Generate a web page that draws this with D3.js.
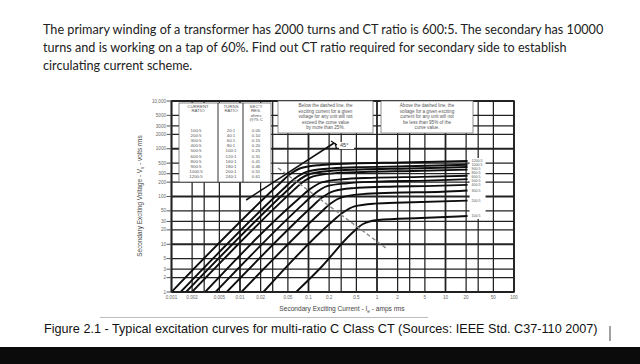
<!DOCTYPE html>
<html><head><meta charset="utf-8">
<script src="https://cdn.jsdelivr.net/npm/d3@7"></script>
<style>body{margin:0;background:#fff}svg{display:block}</style>
</head><body><svg id="c" width="640" height="364"></svg>
<script>
// ---------- data ----------
const paragraph = [
  "The primary winding of a transformer has 2000 turns and CT ratio is 600:5. The secondary has 10000",
  "turns and is working on a tap of 60%. Find out CT ratio required for secondary side to establish",
  "circulating current scheme."
];
const caption = "Figure  2.1 - Typical excitation curves for multi-ratio C Class CT (Sources: IEEE Std. C37-110 2007)";
const xTickValues = [0.001,0.002,0.005,0.01,0.02,0.05,0.1,0.2,0.5,1,2,5,10,20,50,100];
const xTickLabels = ["0.001","0.002","0.005","0.01","0.02","0.05","0.1","0.2","0.5","1","2","5","10","20","50","100"];
const yTickValues = [10000,5000,3000,2000,1000,500,300,200,100,50,30,20,10,5,3,2,1];
const yTickLabels = ["10,000","5000","3000","2000","1000","500","300","200","100","50","30","20","10","5","3","2","1"];
const xGridValues = [0.001,0.002,0.003,0.005,0.01,0.02,0.03,0.05,0.1,0.2,0.3,0.5,1,2,3,5,10,20,30,50,100];
const yGridValues = [1,2,3,5,10,20,30,50,100,200,300,500,1000,2000,3000,5000,10000];
const ratios = ["1200:5","1000:5","900:5","800:5","600:5","500:5","400:5","300:5","200:5","100:5"];
const exc1200 = [[0.001,1],[0.036,174],[0.052,282],[0.078,395],[0.153,457],[0.418,491],[2.24,515],[21,554]];
const exc1000 = [[0.00136,1],[0.0432,145],[0.0624,235],[0.0936,329],[0.184,381],[0.502,409],[2.69,429],[21,462]];
const exc900  = [[0.00163,1],[0.048,130],[0.0693,211],[0.104,296],[0.204,343],[0.557,368],[2.99,386],[21,415]];
const exc800  = [[0.00199,1],[0.054,116],[0.078,188],[0.117,263],[0.230,305],[0.627,327],[3.36,343],[21,365]];
const exc600  = [[0.0031,1],[0.072,90],[0.104,141],[0.156,198],[0.306,229],[0.836,246],[4.48,258],[21,272]];
const exc500  = [[0.0044,1],[0.0864,72.5],[0.125,117],[0.187,165],[0.367,190],[1.0,205],[5.38,215],[21,231]];
const exc400  = [[0.0064,1],[0.108,58],[0.156,94],[0.234,130],[0.459,150],[1.25,160],[6.72,167],[21,175]];
const exc300  = [[0.0105,1],[0.144,43.5],[0.208,70.5],[0.312,97],[0.612,112],[1.67,120],[8.96,126],[21,134]];
const exc200  = [[0.022,1],[0.216,29],[0.312,45],[0.468,62],[0.918,71],[2.51,75],[21,82]];
const exc100  = [[0.066,1],[0.153,3.3],[0.418,16.4],[0.625,26.5],[1.03,32.2],[4.38,35.5],[21,39]];
const tangent45 = [[0.0123,84.5],[0.236,1320]];
const dashedBoundary = [[0.036,395],[1.35,8.3]];
const tableHeaders = [["CURRENT","RATIO"],["TURNS","RATIO"],["SEC'Y","RES.","ohms","@75 C"]];
const tableCurrent = ["100:5","200:5","300:5","400:5","500:5","600:5","800:5","900:5","1000:5","1200:5"];
const tableTurns = ["20:1","40:1","60:1","80:1","100:1","120:1","160:1","180:1","200:1","240:1"];
const tableRes = ["0.05","0.10","0.15","0.20","0.25","0.31","0.41","0.46","0.51","0.61"];
const noteBelow = ["Below the dashed line, the","exciting current for a given","voltage for any unit will not","exceed the curve value","by more than 25%."];
const noteAbove = ["Above the dashed line, the","voltage for a given exciting","current for any unit will not","be less than 95% of the","curve value."];

const curves = [exc1200,exc1000,exc900,exc800,exc600,exc500,exc400,exc300,exc200,exc100];

// ---------- drawing ----------
const svg = d3.select("#c");
svg.append("rect").attr("width",640).attr("height",364).attr("fill","#fff");

// paragraph
const para = svg.append("g").attr("font-family","Lato, 'Open Sans', sans-serif").attr("fill","#222");
const pl = para.selectAll("text").data(paragraph).join("text")
  .attr("x",43).attr("y",(d,i)=>34+i*18).attr("font-size",12).text(d=>d);
const w0 = pl.nodes()[0].getComputedTextLength();
pl.attr("font-size",12*561/w0);

// scales
const L=171.5, R=514, T=101, B=292;
const x = d3.scaleLog().domain([0.001,100]).range([L,R]);
const y = d3.scaleLog().domain([1,10000]).range([B,T]);

const chart = svg.append("g");
svg.append("clipPath").attr("id","plot").append("rect").attr("x",L).attr("y",T).attr("width",R-L).attr("height",B-T);

const isDecade = v => Math.abs(Math.log10(v)-Math.round(Math.log10(v)))<1e-6;
chart.append("g").selectAll("line").data(xGridValues).join("line")
  .attr("x1",d=>x(d)).attr("x2",d=>x(d)).attr("y1",T).attr("y2",B)
  .attr("stroke","#222").attr("stroke-width",d=>isDecade(d)?1.8:1.25);
chart.append("g").selectAll("line").data(yGridValues).join("line")
  .attr("y1",d=>y(d)).attr("y2",d=>y(d)).attr("x1",L).attr("x2",R)
  .attr("stroke","#222").attr("stroke-width",d=>isDecade(d)?1.8:1.25);

// curves
const line = d3.line().x(d=>x(d[0])).y(d=>y(d[1])).curve(d3.curveMonotoneX);
const cg = chart.append("g").attr("clip-path","url(#plot)");
cg.selectAll("path.exc").data(curves).join("path").attr("class","exc")
  .attr("d",line).attr("fill","none").attr("stroke","#0e0e0e").attr("stroke-width",1.9);

// dashed boundary & 45 deg tangent
cg.append("path").attr("d",d3.line().x(d=>x(d[0])).y(d=>y(d[1]))(dashedBoundary))
  .attr("stroke","#8a8a8a").attr("stroke-width",1.4).attr("stroke-dasharray","4,2.5").attr("fill","none");
cg.append("path").attr("d",d3.line().x(d=>x(d[0])).y(d=>y(d[1]))(tangent45))
  .attr("stroke","#111").attr("stroke-width",1.6).attr("fill","none");
const tEnd = tangent45[1];
chart.append("line").attr("x1",x(tEnd[0])-3).attr("y1",y(tEnd[1])-2).attr("x2",x(tEnd[0])+3).attr("y2",y(tEnd[1])+2)
  .attr("stroke","#111").attr("stroke-width",1.2);
chart.append("line").attr("x1",x(tEnd[0])+1).attr("y1",y(tEnd[1])).attr("x2",x(tEnd[0])+2.5).attr("y2",y(tEnd[1])+6)
  .attr("stroke","#111").attr("stroke-width",1.2);
chart.append("rect").attr("x",x(tEnd[0])+5).attr("y",y(tEnd[1])-1).attr("width",15).attr("height",7).attr("fill","#fff");
chart.append("text").attr("x",x(tEnd[0])+6).attr("y",y(tEnd[1])+4.5).attr("font-size",5.5)
  .attr("font-family","Liberation Sans, Arial, sans-serif").attr("fill","#333").text("45°");

// frame
chart.append("rect").attr("x",L).attr("y",T).attr("width",R-L).attr("height",B-T)
  .attr("fill","none").attr("stroke","#222").attr("stroke-width",1.5);

// curve labels (spread so they do not collide)
const lastPts = curves.map(c=>c[c.length-1]);
const labelY = [];
lastPts.forEach((p,i)=>{ let v=y(p[1]); if(i>0 && v<labelY[i-1]+3.9) v=labelY[i-1]+3.9; labelY.push(v); });
chart.append("rect").attr("x",x(21)+2).attr("y",labelY[0]-3).attr("width",16)
  .attr("height",labelY[9]-labelY[0]+6).attr("fill","#fff");
chart.append("g").selectAll("text").data(ratios).join("text")
  .attr("x",x(21)+4).attr("y",(d,i)=>labelY[i]+1.3)
  .attr("font-size",3.6).attr("font-family","Liberation Sans, Arial, sans-serif").attr("fill","#555").text(d=>d);

// table
const tb = chart.append("g").attr("font-family","Liberation Sans, Arial, sans-serif").attr("fill","#555").attr("font-size",4.4).attr("text-anchor","middle");
tb.append("rect").attr("x",179).attr("y",103).attr("width",92).attr("height",79).attr("fill","#fff").attr("stroke","#666").attr("stroke-width",0.8);
[218,243].forEach(v=>tb.append("line").attr("x1",v).attr("x2",v).attr("y1",103).attr("y2",182).attr("stroke","#333").attr("stroke-width",1));
const colX = [198,231,256];
tableHeaders.forEach((h,ci)=>h.forEach((t,ri)=>tb.append("text").attr("x",colX[ci]).attr("y",108+ri*4.4).text(t)));
[tableCurrent,tableTurns,tableRes].forEach((col,ci)=>{
  tb.selectAll(null).data(col).join("text").attr("x",colX[ci]-(ci===0?2:0)).attr("y",(d,i)=>131.5+i*5.2).text(d=>d);
});

// notes
const notes = [[noteBelow,278,373],[noteAbove,381,473]];
notes.forEach(([lines,a,b])=>{
  const g = chart.append("g").attr("font-family","Liberation Sans, Arial, sans-serif").attr("fill","#555").attr("font-size",4.6).attr("text-anchor","middle");
  g.append("rect").attr("x",a).attr("y",101).attr("width",b-a).attr("height",32).attr("fill","#fff").attr("stroke","#777").attr("stroke-width",0.8);
  g.selectAll("text").data(lines).join("text").attr("x",(a+b)/2).attr("y",(d,i)=>107+i*5.6).text(d=>d);
});

// ticks + labels
const ax = svg.append("g").attr("font-family","Liberation Sans, Arial, sans-serif").attr("fill","#666");
ax.selectAll("line.yt").data(yTickValues).join("line").attr("class","yt")
  .attr("x1",L-5).attr("x2",L).attr("y1",d=>y(d)).attr("y2",d=>y(d)).attr("stroke","#444").attr("stroke-width",0.9);
ax.selectAll("text.yl").data(yTickValues).join("text").attr("class","yl")
  .attr("x",L-5.5).attr("y",d=>y(d)+1.6).attr("text-anchor","end").attr("font-size",4.6).text((d,i)=>yTickLabels[i]);
ax.selectAll("text.xl").data(xTickValues).join("text").attr("class","xl")
  .attr("x",d=>x(d)).attr("y",B+7).attr("text-anchor","middle").attr("font-size",4.6).text((d,i)=>xTickLabels[i]);

// axis titles
const xt = svg.append("text").attr("x",342).attr("y",311).attr("text-anchor","middle").attr("font-size",6.6)
  .attr("font-family","Liberation Sans, Arial, sans-serif").attr("fill","#444");
xt.append("tspan").text("Secondary Exciting Current -  I");
xt.append("tspan").attr("font-size",4.6).attr("dy",1.5).text("e");
xt.append("tspan").attr("dy",-1.5).text("  - amps rms");
const yt = svg.append("text").attr("transform","translate(142,196) rotate(-90)").attr("text-anchor","middle").attr("font-size",6.4)
  .attr("font-family","Liberation Sans, Arial, sans-serif").attr("fill","#444");
yt.append("tspan").text("Secondary Exciting Voltage -  V");
yt.append("tspan").attr("font-size",4.6).attr("dy",1.5).text("s");
yt.append("tspan").attr("dy",-1.5).text("  - volts rms");

// rule under figure
svg.append("line").attr("x1",100).attr("x2",428).attr("y1",317.5).attr("y2",317.5).attr("stroke","#bdbdbd").attr("stroke-width",1);

// caption
const cap = svg.append("text").attr("x",44).attr("y",333).attr("font-size",11)
  .attr("font-family","Liberation Sans, Arial, sans-serif").attr("fill","#111").text(caption);
const cw = cap.node().getComputedTextLength();
cap.attr("font-size",11*554/cw);
svg.append("line").attr("x1",610).attr("x2",610).attr("y1",326).attr("y2",341).attr("stroke","#444").attr("stroke-width",1);

// bottom dark band
svg.append("rect").attr("x",0).attr("y",347).attr("width",640).attr("height",17).attr("fill","#0b0b0b");
</script></body></html>
